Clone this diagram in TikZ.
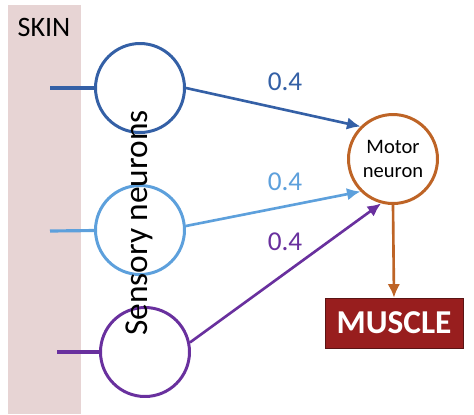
\documentclass[tikz,border=0pt]{standalone}
\usepackage{fontspec}
\setmainfont{Carlito}
\setsansfont{Carlito}
\usetikzlibrary{arrows.meta}
\definecolor{ink}{RGB}{0,0,0}
\definecolor{skin}{RGB}{231,212,212}
\definecolor{sensA}{RGB}{52,96,166}
\definecolor{sensB}{RGB}{93,160,220}
\definecolor{sensC}{RGB}{105,48,158}
\definecolor{motor}{RGB}{190,100,38}
\definecolor{muscle}{RGB}{152,30,30}
\definecolor{muscleEdge}{RGB}{90,20,20}
\tikzset{
  font=\sffamily,
  neuron/.style={circle, draw, line width=1.7pt, minimum size=1.78cm,
    inner sep=0pt, align=center},
  weight/.style={font=\sffamily\fontsize{15.5}{18}\selectfont},
  synapse/.style={-{Latex[length=2.7mm,width=2.5mm]}, line width=1.5pt},
  nerve/.style={line width=1.8pt},
  effector/.style={draw=muscleEdge, thin, fill=muscle, text=white,
    minimum width=2.76cm, minimum height=1.0cm,
    font=\sffamily\bfseries\fontsize{19}{22}\selectfont}
}

\begin{document}
\begin{tikzpicture}[x=0.02cm,y=-0.02cm]

% Background
\fill[white] (0,0) rectangle (474,414);
\fill[skin] (8,5) rectangle (81,414);
\node[font=\sffamily\fontsize{16}{19}\selectfont] (skinLabel) at (44,27) {SKIN};

% Sensory neurons
\node[neuron, draw=sensA] (s1) at (140,88) {};
\node[neuron, draw=sensB] (s2) at (140,230) {};
\node[neuron, draw=sensC] (s3) at (145,352) {};

\coordinate (in1) at (50,88);
\coordinate (in2) at (50,231);
\coordinate (in3) at (57,352);
\draw[nerve, draw=sensA] (in1) -- (s1);
\draw[nerve, draw=sensB] (in2) -- (s2);
\draw[nerve, draw=sensC] (in3) -- (s3);

% Motor side
\node[neuron, draw=motor, font=\sffamily\fontsize{11.7}{14}\selectfont] (mn) at (393,159) {Motor\\neuron};
\node[effector] (muscleBox) at (394,323) {MUSCLE};

\draw[synapse, draw=sensA] (s1.east) -- (mn.135);
\draw[synapse, draw=sensB] (s2.5) -- (mn.225);
\draw[synapse, draw=sensC] (s3.12) -- (mn.255);
\draw[synapse, draw=motor] (mn.south) -- (muscleBox.north);

% Weights
\node[weight, text=sensA] (w1) at (285,82) {0.4};
\node[weight, text=sensB] (w2) at (285,182) {0.4};
\node[weight, text=sensC] (w3) at (285,242) {0.4};

% Label across the circles
\node[rotate=90, font=\sffamily\fontsize{19}{22}\selectfont] (sensLabel) at (139,223) {Sensory neurons};

\end{tikzpicture}
\end{document}
